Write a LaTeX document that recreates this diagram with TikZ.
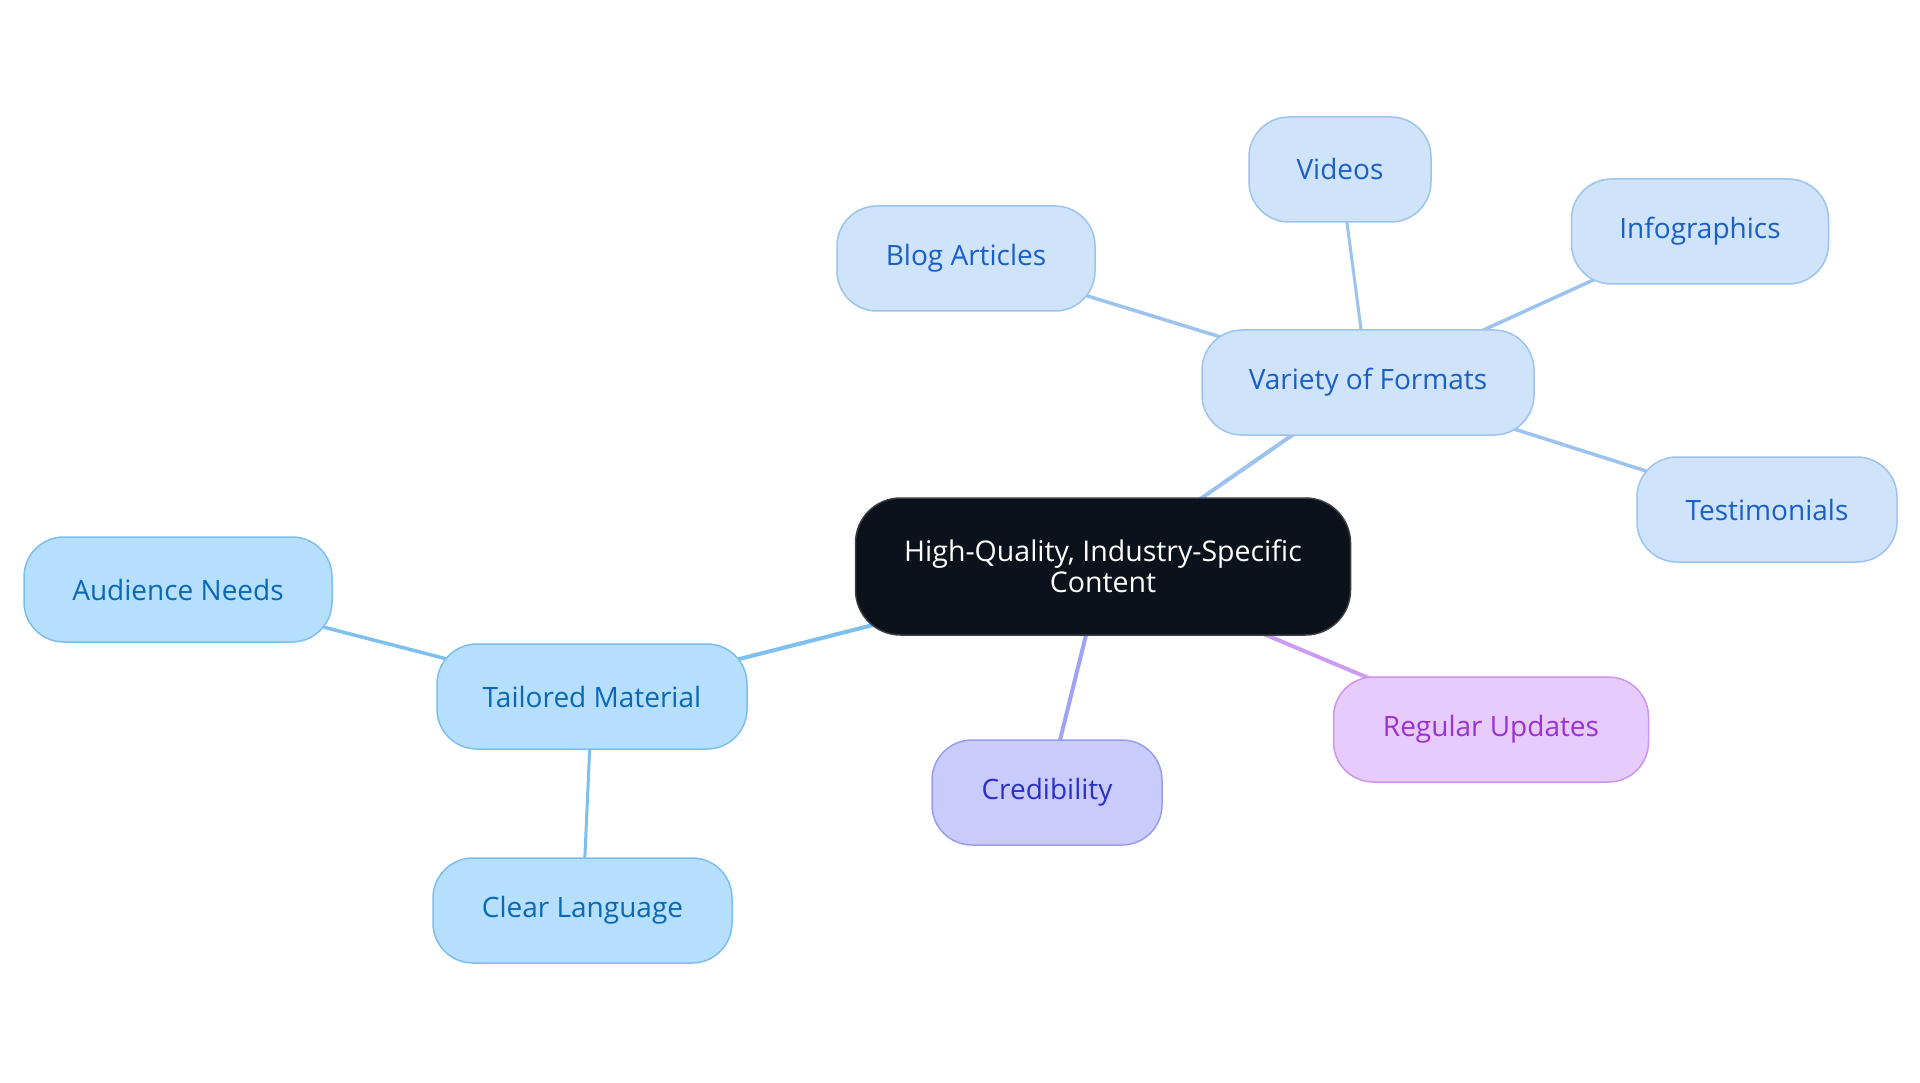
\documentclass[tikz,border=0pt]{standalone}
\usepackage{fontspec}
\setmainfont{Open Sans}
\usetikzlibrary{backgrounds}
\definecolor{cfill}{HTML}{0B121C}
\definecolor{cdraw}{HTML}{3A3D42}
\definecolor{vfill}{HTML}{CFE3FB}
\definecolor{vdraw}{HTML}{9DC3F0}
\definecolor{vtext}{HTML}{1A5FC7}
\definecolor{vedge}{HTML}{9CC2EE}
\definecolor{tfill}{HTML}{B5DFFD}
\definecolor{tdraw}{HTML}{7BBFEF}
\definecolor{ttext}{HTML}{0A68B5}
\definecolor{tedge}{HTML}{7DC0F0}
\definecolor{kfill}{HTML}{C9CBFD}
\definecolor{kdraw}{HTML}{9A9CF0}
\definecolor{ktext}{HTML}{2A2FC9}
\definecolor{kedge}{HTML}{A0A2F5}
\definecolor{rfill}{HTML}{E8CBFD}
\definecolor{rdraw}{HTML}{CC95EE}
\definecolor{rtext}{HTML}{9A30D6}
\definecolor{redge}{HTML}{CC9CF2}
\tikzset{
  box/.style={rectangle, rounded corners=40pt, line width=1.5pt, inner sep=0pt,
    minimum height=105pt, font=\fontsize{28}{31}\selectfont, align=center},
  vbox/.style={box, fill=vfill, draw=vdraw, text=vtext},
  tbox/.style={box, fill=tfill, draw=tdraw, text=ttext},
  kbox/.style={box, fill=kfill, draw=kdraw, text=ktext},
  rbox/.style={box, fill=rfill, draw=rdraw, text=rtext},
  cbox/.style={box, rounded corners=45pt, fill=cfill, draw=cdraw, text=white, minimum height=137pt,
    font=\fontsize{28.5}{31}\selectfont},
  link/.style={line width=4pt}
}
\begin{document}
\begin{tikzpicture}[x=1pt,y=-1pt]
\useasboundingbox (0,0) rectangle (1920,1083);
\node[cbox, minimum width=495pt] (c) at (1103,566.5) {High-Quality, Industry-Specific\\Content};
\node[vbox, minimum width=332pt] (var) at (1368,382.5) {Variety of Formats};
\node[vbox, minimum width=258pt] (blog) at (966,258.5) {Blog Articles};
\node[vbox, minimum width=182pt] (vid) at (1340,169.5) {Videos};
\node[vbox, minimum width=257pt] (inf) at (1700,231.5) {Infographics};
\node[vbox, minimum width=260pt] (tes) at (1767,509.5) {Testimonials};
\node[tbox, minimum width=310pt] (tai) at (592,696.5) {Tailored Material};
\node[tbox, minimum width=308pt] (aud) at (178,589.5) {Audience Needs};
\node[tbox, minimum width=299pt] (cle) at (582.5,910.5) {Clear Language};
\node[kbox, minimum width=230pt] (cre) at (1047,792.5) {Credibility};
\node[rbox, minimum width=315pt] (reg) at (1491,729.5) {Regular Updates};
\begin{scope}[on background layer]
\draw[link, vedge] (c.center) -- (var.center);
\draw[link, vedge, line width=3.5pt] (var.center) -- (blog.center);
\draw[link, vedge, line width=3pt] (var.center) -- (vid.center);
\draw[link, vedge, line width=3.5pt] (var.center) -- (inf.center);
\draw[link, vedge, line width=3.5pt] (var.center) -- (tes.center);
\draw[link, tedge] (c.center) -- (tai.center);
\draw[link, tedge, line width=3.5pt] (tai.center) -- (aud.center);
\draw[link, tedge, line width=3pt] (tai.center) -- (cle.center);
\draw[link, kedge] (c.center) -- (cre.center);
\draw[link, redge] (c.center) -- (reg.center);
\end{scope}
\end{tikzpicture}
\end{document}
